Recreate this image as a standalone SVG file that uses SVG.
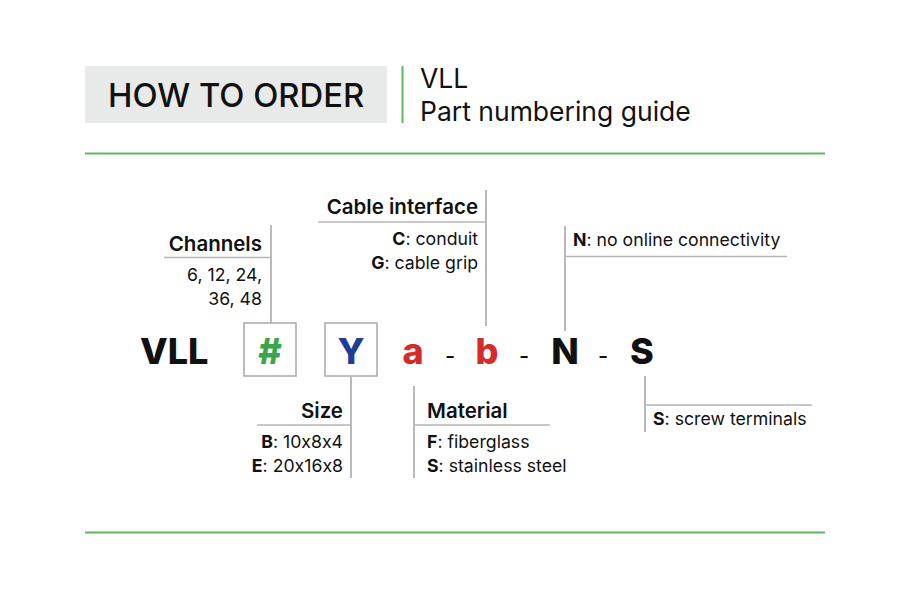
<svg xmlns="http://www.w3.org/2000/svg" width="910" height="600" viewBox="0 0 910 600">
<style>
text{font-family:Inter,"Noto Sans",sans-serif;fill:#111;font-feature-settings:"calt" 0}
.lbl{font-size:20.5px;font-weight:600}
.val{font-size:17.7px;font-weight:400}
.b{font-weight:700}
.code{font-size:36px;font-weight:800;text-anchor:middle}
.lead{stroke:#8a8a8a;stroke-width:1.2;fill:none}
.ul{stroke:#b5b5b5;stroke-width:1.5;fill:none}
.box{fill:#fff;stroke:#a8a8a8;stroke-width:1.5}
.r{text-anchor:end}
</style>
<rect width="910" height="600" fill="#fff"/>
<g id="header">
<rect x="85" y="66" width="302" height="57" fill="#e8eaea"/>
<text x="108" y="107" style="font-size:32.8px;font-weight:500">HOW TO ORDER</text>
<line x1="402.5" y1="66" x2="402.5" y2="123" stroke="#5cb85c" stroke-width="2"/>
<text x="420" y="88" style="font-size:26.5px">VLL</text>
<text x="420" y="121" style="font-size:26.5px">Part numbering guide</text>
</g>
<g id="rules">
<line x1="85" y1="153.5" x2="825" y2="153.5" stroke="#5cb85c" stroke-width="2"/>
<line x1="85" y1="532.5" x2="825" y2="532.5" stroke="#5cb85c" stroke-width="2"/>
</g>
<g id="connectors">
<line class="lead" x1="271" y1="225" x2="271" y2="323"/>
<line class="ul" x1="164" y1="257.5" x2="271" y2="257.5"/>
<line class="lead" x1="486" y1="190" x2="486" y2="326"/>
<line class="ul" x1="318" y1="222" x2="486" y2="222"/>
<line class="lead" x1="565" y1="226" x2="565" y2="331"/>
<line class="ul" x1="565" y1="256.5" x2="787" y2="256.5"/>
<line class="lead" x1="351" y1="377" x2="351" y2="478"/>
<line class="ul" x1="257" y1="425" x2="351" y2="425"/>
<line class="lead" x1="414" y1="386" x2="414" y2="478"/>
<line class="ul" x1="414" y1="425" x2="550" y2="425"/>
<line class="lead" x1="645" y1="376" x2="645" y2="432"/>
<line class="ul" x1="645" y1="405" x2="812" y2="405"/>
</g>
<g id="part-number">
<text x="140" y="364" style="font-size:36px;font-weight:800">VLL</text>
<rect class="box" x="244" y="323" width="52" height="53"/>
<text class="code" x="270" y="364" style="fill:#3aa54a">#</text>
<rect class="box" x="325" y="323" width="52" height="53"/>
<text class="code" x="351" y="364" style="fill:#1c3f94">Y</text>
<text class="code" x="413" y="364" style="fill:#d62b2b">a</text>
<text class="code" x="450" y="364" style="font-size:22px;font-weight:500">-</text>
<text class="code" x="487" y="364" style="fill:#d62b2b">b</text>
<text class="code" x="524" y="364" style="font-size:22px;font-weight:500">-</text>
<text class="code" x="565" y="364">N</text>
<text class="code" x="603" y="364" style="font-size:22px;font-weight:500">-</text>
<text class="code" x="642" y="364">S</text>
</g>
<g id="channels">
<text class="lbl r" x="262" y="251">Channels</text>
<text class="val r" x="262" y="281">6, 12, 24,</text>
<text class="val r" x="262" y="305">36, 48</text>
</g>
<g id="cable-interface">
<text class="lbl r" x="478" y="214">Cable interface</text>
<text class="val r" x="478" y="245"><tspan class="b">C</tspan>: conduit</text>
<text class="val r" x="478" y="269"><tspan class="b">G</tspan>: cable grip</text>
</g>
<g id="connectivity">
<text class="val" x="573" y="246"><tspan class="b">N</tspan>: no online connectivity</text>
</g>
<g id="size">
<text class="lbl r" x="343" y="418">Size</text>
<text class="val r" x="343" y="448"><tspan class="b">B</tspan>: 10x8x4</text>
<text class="val r" x="343" y="472"><tspan class="b">E</tspan>: 20x16x8</text>
</g>
<g id="material">
<text class="lbl" x="427" y="418">Material</text>
<text class="val" x="427" y="448"><tspan class="b">F</tspan>: fiberglass</text>
<text class="val" x="427" y="472"><tspan class="b">S</tspan>: stainless steel</text>
</g>
<g id="terminals">
<text class="val" x="653" y="425"><tspan class="b">S</tspan>: screw terminals</text>
</g>
</svg>
